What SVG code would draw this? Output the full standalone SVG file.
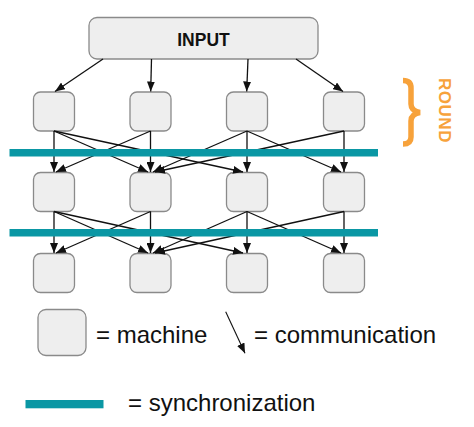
<svg xmlns="http://www.w3.org/2000/svg" width="474" height="427" viewBox="0 0 474 427">
<style>
.box{fill:#eeeeee;stroke:#8a8a8a;stroke-width:1.3}
.edge{stroke:#111;stroke-width:1.3;fill:none;marker-end:url(#ah)}
.sync{fill:#0a97a4}
.lbl{font-family:"Liberation Sans",Arial,sans-serif;font-size:24px;fill:#111}
</style>
<defs>
<marker id="ah" markerUnits="userSpaceOnUse" markerWidth="10" markerHeight="8" refX="10" refY="4" orient="auto">
<path d="M0,0 L10,4 L0,8 z" fill="#111"/>
</marker>
</defs>
<rect width="474" height="427" fill="#ffffff"/>
<g id="input">
<rect class="box" x="89" y="17.5" width="229" height="41.5" rx="8"/>
<text x="203.5" y="45.5" text-anchor="middle" font-family="Liberation Sans,Arial,sans-serif" font-weight="bold" font-size="17.5" fill="#111">INPUT</text>
</g>
<g id="row1">
<rect class="box" x="33.5" y="92" width="41" height="39" rx="7"/>
<rect class="box" x="130" y="92" width="41" height="39" rx="7"/>
<rect class="box" x="226.5" y="92" width="41" height="39" rx="7"/>
<rect class="box" x="323.5" y="92" width="41" height="39" rx="7"/>
</g>
<g id="row2">
<rect class="box" x="33.5" y="172.5" width="41" height="39" rx="7"/>
<rect class="box" x="130" y="172.5" width="41" height="39" rx="7"/>
<rect class="box" x="226.5" y="172.5" width="41" height="39" rx="7"/>
<rect class="box" x="323.5" y="172.5" width="41" height="39" rx="7"/>
</g>
<g id="row3">
<rect class="box" x="33.5" y="253.5" width="41" height="39" rx="7"/>
<rect class="box" x="130" y="253.5" width="41" height="39" rx="7"/>
<rect class="box" x="226.5" y="253.5" width="41" height="39" rx="7"/>
<rect class="box" x="323.5" y="253.5" width="41" height="39" rx="7"/>
</g>
<g id="connectors">
<line class="edge" x1="103" y1="59" x2="55" y2="91.5"/>
<line class="edge" x1="151.5" y1="59" x2="150.7" y2="91.5"/>
<line class="edge" x1="248" y1="59" x2="246.7" y2="91.5"/>
<line class="edge" x1="296" y1="59" x2="343" y2="91.5"/>

<line class="edge" x1="54" y1="131" x2="54" y2="172"/>
<line class="edge" x1="54" y1="131" x2="148" y2="172"/>
<line class="edge" x1="54" y1="131" x2="243" y2="172"/>
<line class="edge" x1="150.5" y1="131" x2="56" y2="172"/>
<line class="edge" x1="150.5" y1="131" x2="150.5" y2="172"/>
<line class="edge" x1="247" y1="131" x2="153" y2="172"/>
<line class="edge" x1="247" y1="131" x2="247" y2="172"/>
<line class="edge" x1="247" y1="131" x2="341" y2="172"/>
<line class="edge" x1="344" y1="131" x2="155" y2="172"/>
<line class="edge" x1="344" y1="131" x2="344" y2="172"/>

<line class="edge" x1="54" y1="211.5" x2="54" y2="253"/>
<line class="edge" x1="54" y1="211.5" x2="148" y2="253"/>
<line class="edge" x1="54" y1="211.5" x2="243" y2="253"/>
<line class="edge" x1="150.5" y1="211.5" x2="56" y2="253"/>
<line class="edge" x1="150.5" y1="211.5" x2="150.5" y2="253"/>
<line class="edge" x1="247" y1="211.5" x2="153" y2="253"/>
<line class="edge" x1="247" y1="211.5" x2="247" y2="253"/>
<line class="edge" x1="247" y1="211.5" x2="341" y2="253"/>
<line class="edge" x1="344" y1="211.5" x2="155" y2="253"/>
<line class="edge" x1="344" y1="211.5" x2="344" y2="253"/>
</g>
<g id="sync-bars">
<rect class="sync" x="9.5" y="149" width="368.5" height="7.5"/>
<rect class="sync" x="9.5" y="229" width="368.5" height="7.5"/>
</g>
<g id="round">
<path d="M403,80.5 Q411,80.5 411,88 L411,104 Q411,111 420,112.5 Q411,114 411,121 L411,137 Q411,144 403,144" fill="none" stroke="#f7a23b" stroke-width="5.5"/>
<text transform="translate(439,110.5) rotate(90)" text-anchor="middle" font-family="Liberation Sans,Arial,sans-serif" font-weight="bold" font-size="17" letter-spacing="0.5" fill="#f7a23b">ROUND</text>
</g>
<g id="legend">
<rect class="box" x="38" y="309.5" width="48" height="46" rx="8"/>
<text class="lbl" x="96" y="342.5">= machine</text>
<line x1="225.7" y1="311.7" x2="245" y2="353.3" stroke="#111" stroke-width="1.1" marker-end="url(#ah)"/>
<text class="lbl" x="254" y="342.5">= communication</text>
<rect class="sync" x="25.5" y="400" width="78" height="8.3"/>
<text class="lbl" x="128" y="411">= synchronization</text>
</g>
</svg>
